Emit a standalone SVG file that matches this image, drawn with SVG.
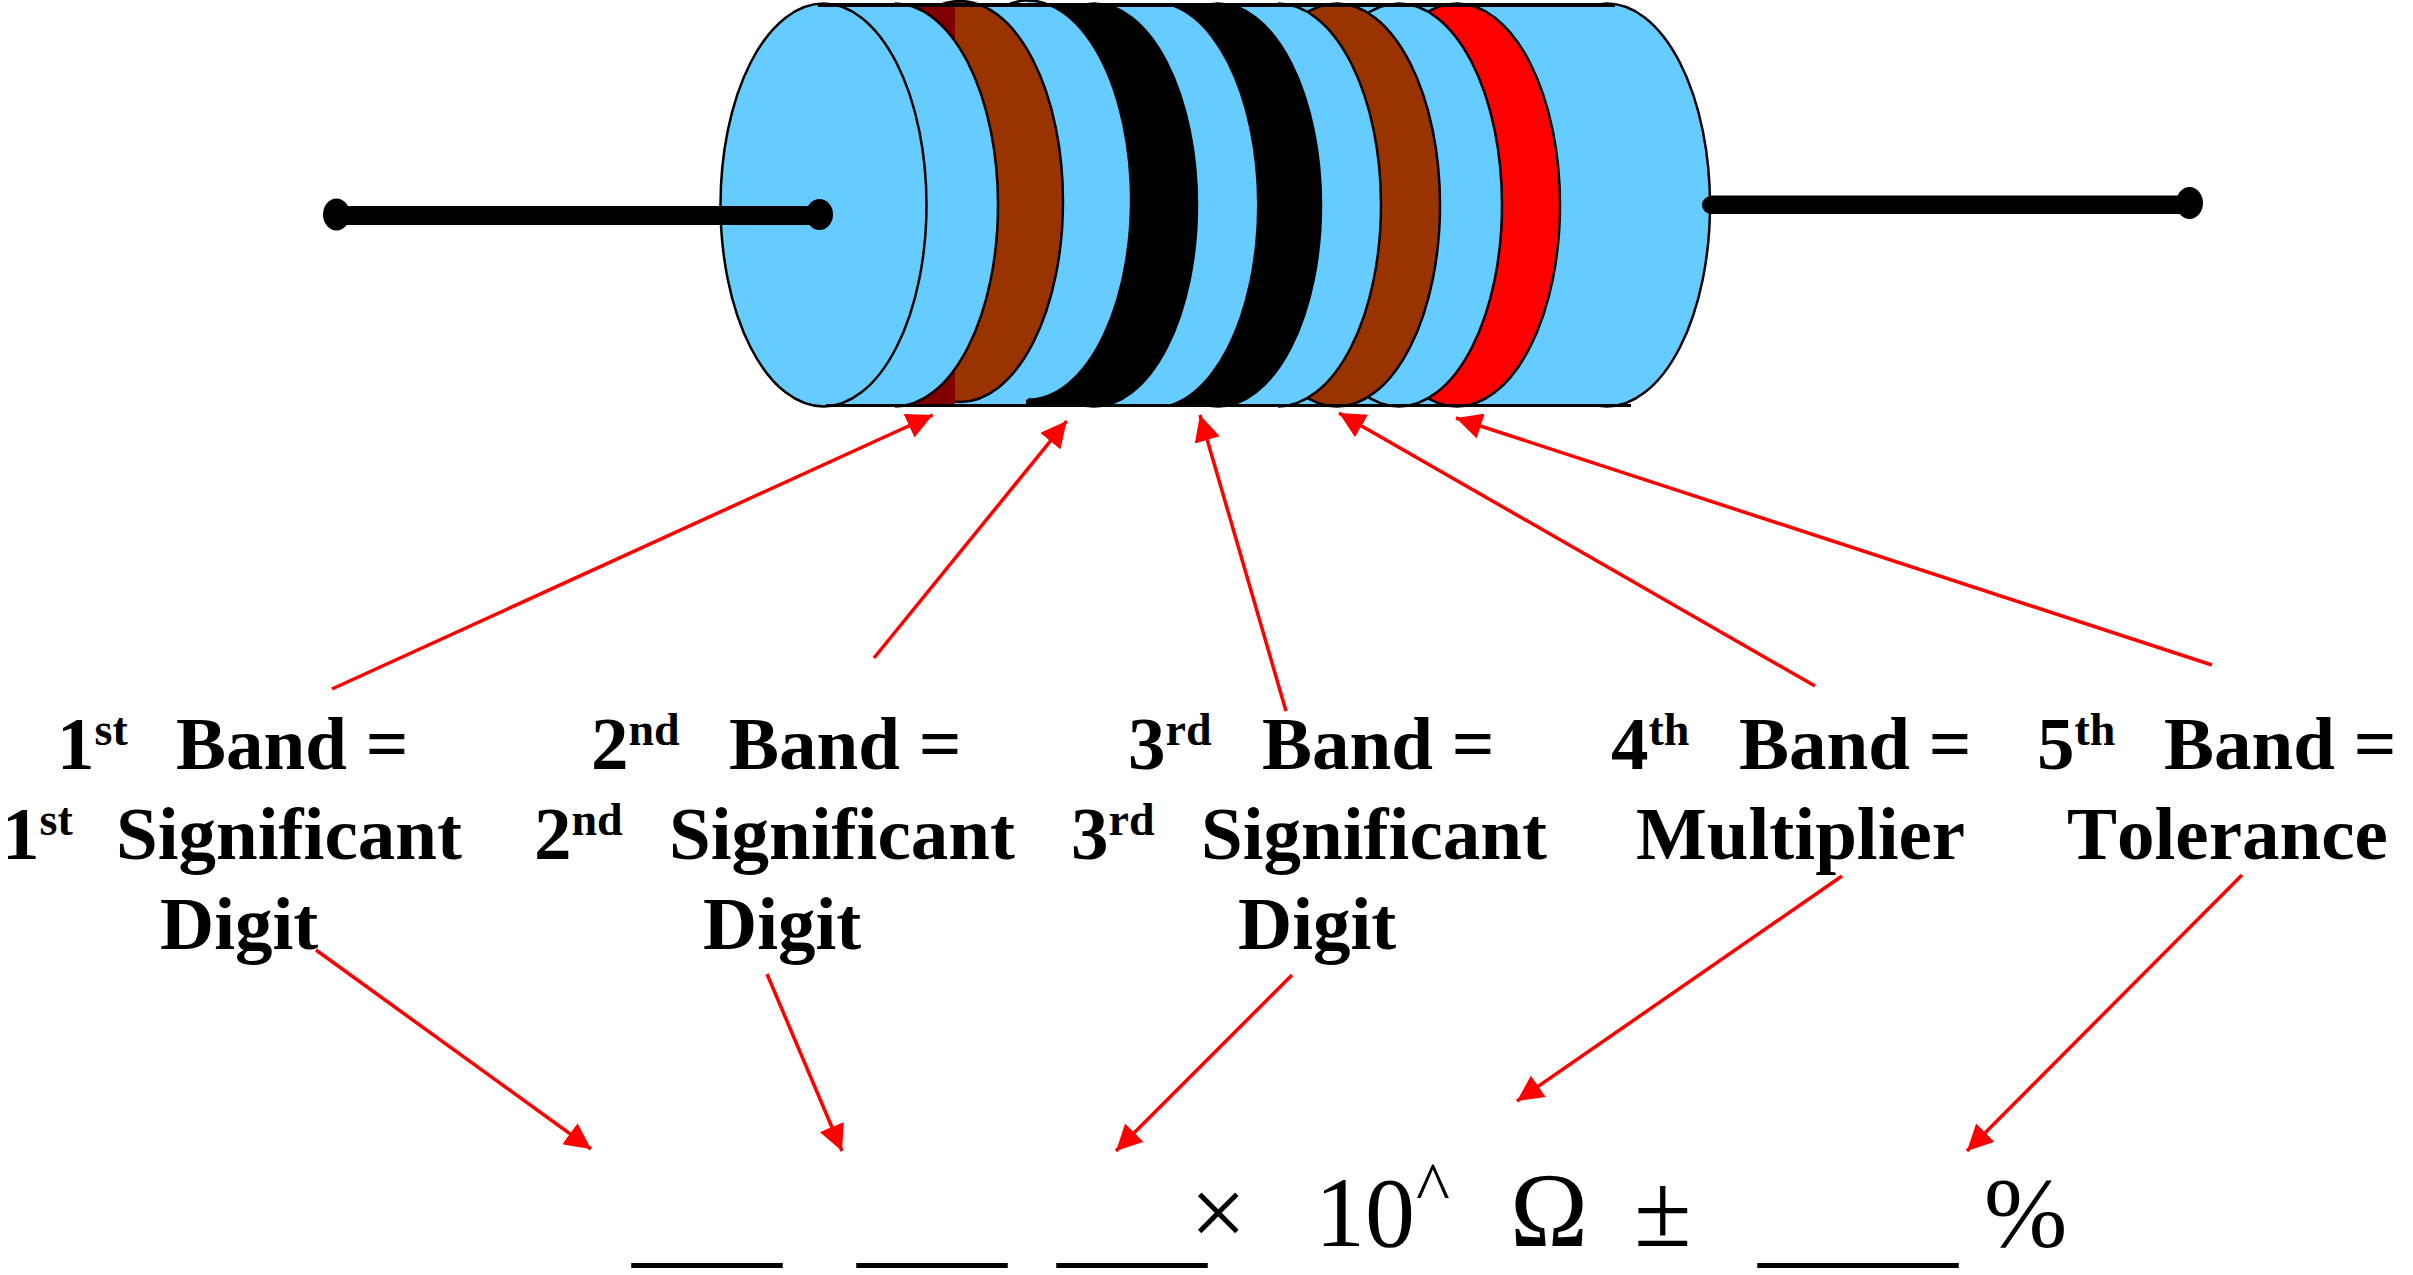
<svg xmlns="http://www.w3.org/2000/svg" width="2413" height="1275" viewBox="0 0 2413 1275">
<style>
text{font-family:"Liberation Serif","Times New Roman",serif;fill:#000}
.l{font-size:75px;font-weight:700;font-kerning:none}
.s{font-size:46px}
.f{font-size:100px}
.c{stroke:#000;stroke-width:2.5}
.o{fill:none;stroke:#000;stroke-width:2.5}
.b{fill:#6cf}
.k{fill:#000}
.br{fill:#930}
.r{fill:#f00}
.a{fill:none;stroke:#f00;stroke-width:3.5;marker-end:url(#h)}
</style>
<defs>
<marker id="h" markerUnits="userSpaceOnUse" markerWidth="27" markerHeight="26" refX="26" refY="13" orient="auto"><path d="M0,0L26,13L0,26z" fill="#f00"/></marker>
<ellipse id="e" rx="103" ry="201.5"/>
</defs>
<rect width="2413" height="1275" fill="#fff"/>
<g id="resistor">
<use href="#e" x="1607" y="205" class="b c"/>
<rect x="823" y="6" width="784" height="399" class="b"/>
<use href="#e" x="1457" y="205" class="r c"/>
<use href="#e" x="1399" y="205" class="b c"/>
<use href="#e" x="1337" y="205" class="br c"/>
<path class="b" d="M1218,3.500H1278A103,201.500 0 0 1 1278,406.500H1218Z"/>
<path class="o" d="M1278,3.500A103,201.500 0 0 1 1278,406.500"/>
<rect x="1154" y="5" width="64" height="400" class="k"/>
<use href="#e" x="1218" y="205" class="k c"/>
<path class="b" d="M1094,3.500H1154A103,201.500 0 0 1 1154,406.500H1094Z"/>
<rect x="1026" y="5" width="68" height="400" class="k"/>
<use href="#e" x="1094" y="205" class="k c"/>
<path class="b" d="M960,5H1028V0.500A103,199.500 0 0 1 1028,399.500H1026V405H960Z"/>
<path class="o" d="M1010,3.600A103,199.500 0 1 1 1028,399.500"/>
<ellipse cx="960" cy="201.500" rx="103" ry="200.500" class="br c"/>
<rect x="890" y="5" width="65" height="400" fill="#800000"/>
<path class="b" d="M823,3.500H895A103,201.500 0 0 1 895,406.500H823Z"/>
<path class="o" d="M895,3.500A103,201.500 0 0 1 895,406.500"/>
<use href="#e" x="823.500" y="205" class="b c"/>
<rect x="818" y="3" width="797" height="4" class="k"/>
<rect x="826" y="404" width="805" height="3" class="k"/>
</g>
<g id="lead-left">
<rect x="337" y="206" width="483" height="19" class="k"/>
<ellipse cx="336.500" cy="214.500" rx="13.500" ry="16" class="k"/>
<ellipse cx="819.500" cy="214.500" rx="13.500" ry="15.500" class="k"/>
</g>
<g id="lead-right">
<rect x="1711" y="195.500" width="478" height="18.500" class="k"/>
<circle cx="1711" cy="205" r="9" class="k"/>
<ellipse cx="2189.500" cy="203" rx="13.500" ry="16" class="k"/>
</g>
<g id="connectors">
<path class="a" d="M332,689L932.700,415"/>
<path class="a" d="M874,658L1066.700,421"/>
<path class="a" d="M1286,711L1200,415"/>
<path class="a" d="M1815,686L1339,413"/>
<path class="a" d="M2212,665L1456,418"/>
<path class="a" d="M316,950L591,1149"/>
<path class="a" d="M767,974L842,1151"/>
<path class="a" d="M1292,975L1116,1151"/>
<path class="a" d="M1842,876L1517,1101"/>
<path class="a" d="M2242,875L1967,1151"/>
</g>
<g id="band-1">
<text class="l" x="57" y="769">1<tspan class="s" dy="-24">st</tspan><tspan x="176" y="769">Band =</tspan></text>
<text class="l" x="2" y="859">1<tspan class="s" dy="-24">st</tspan><tspan x="116" y="859">Significant</tspan></text>
<text class="l" x="160" y="949">Digit</text>
</g>
<g id="band-2">
<text class="l" x="591" y="769">2<tspan class="s" dy="-24">nd</tspan><tspan x="729" y="769">Band =</tspan></text>
<text class="l" x="534" y="859">2<tspan class="s" dy="-24">nd</tspan><tspan x="669" y="859">Significant</tspan></text>
<text class="l" x="703" y="949">Digit</text>
</g>
<g id="band-3">
<text class="l" x="1128" y="769">3<tspan class="s" dy="-24">rd</tspan><tspan x="1262" y="769">Band =</tspan></text>
<text class="l" x="1071" y="859">3<tspan class="s" dy="-24">rd</tspan><tspan x="1201" y="859">Significant</tspan></text>
<text class="l" x="1238" y="949">Digit</text>
</g>
<g id="band-4">
<text class="l" x="1611" y="769">4<tspan class="s" dy="-24">th</tspan><tspan x="1739" y="769">Band =</tspan></text>
<text class="l" x="1636" y="859">Multiplier</text>
</g>
<g id="band-5">
<text class="l" x="2037" y="769">5<tspan class="s" dy="-24">th</tspan><tspan x="2164" y="769">Band =</tspan></text>
<text class="l" x="2067" y="859">Tolerance</text>
</g>
<g id="formula">
<text class="f" x="632" y="1255">___</text>
<text class="f" x="857" y="1255">___</text>
<text class="f" x="1057" y="1255">___</text>
<text class="f" x="1190" y="1246">×</text>
<text class="f" x="1315" y="1246">10</text>
<text x="1416" y="1212" font-size="72">^</text>
<text x="1510" y="1246" font-size="105">Ω</text>
<text x="1634" y="1246" font-size="105">±</text>
<text class="f" x="1758" y="1255">____</text>
<text class="f" x="1984" y="1246">%</text>
</g>
</svg>
